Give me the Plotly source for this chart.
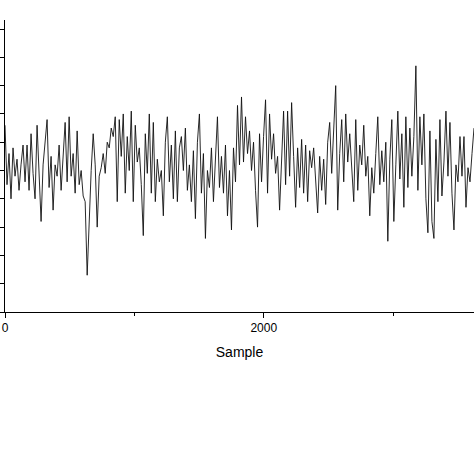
import numpy as np
import plotly.graph_objects as go

signal = [
 6.6,4.5,5.6,4.0,5.8,4.8,5.4,4.3,5.2,5.9,
 4.6,5.9,4.3,6.3,4.9,4.0,6.6,4.7,3.2,5.2,
 6.0,6.8,4.4,5.5,3.6,5.2,4.8,5.9,4.3,5.5,
 6.7,4.6,6.9,4.8,5.6,4.2,6.4,4.5,5.0,4.1,
 3.9,1.3,3.4,5.0,6.3,5.2,3.0,4.8,
 5.1,5.6,4.9,6.0,5.8,6.5,6.2,6.9,3.9,6.8,
 5.5,7.0,4.2,6.2,5.0,7.1,3.9,6.6,5.3,5.8,
 4.5,2.7,6.3,4.9,7.0,4.2,6.7,3.9,5.4,4.6,
 5.0,3.4,6.0,6.9,4.6,5.9,4.0,6.4,3.9,5.8,
 6.2,5.0,6.5,4.3,5.2,3.9,5.7,3.3,6.0,7.0,
 4.2,5.6,2.6,5.0,4.4,5.8,3.9,5.2,6.9,4.4,
 5.5,4.2,5.9,3.4,5.0,2.9,5.8,4.6,7.3,5.2,
 7.6,5.3,6.9,5.6,6.4,5.0,6.0,4.3,3.0,6.3,
 4.6,6.2,7.5,4.2,7.0,5.4,6.3,4.9,5.5,3.6,
 5.6,7.1,4.5,7.1,4.8,7.4,5.5,3.7,5.8,4.4,
 6.1,4.2,5.9,3.9,5.7,5.1,5.8,4.6,3.5,5.5,
 4.3,5.4,3.8,6.0,6.7,4.9,6.3,8.0,3.6,5.6,
 6.8,4.6,7.0,5.3,6.3,5.0,3.9,6.8,4.3,5.9,
 5.2,6.6,4.8,5.5,3.4,5.1,4.2,5.6,6.9,4.5,
 5.7,4.6,6.0,2.5,5.4,6.8,3.2,5.2,7.1,4.7,
 6.3,3.7,6.9,4.4,6.5,4.8,6.2,8.7,4.3,6.9,
 5.2,7.0,4.0,2.8,6.4,3.2,2.6,6.1,3.9,6.8,
 4.1,5.3,7.1,4.8,6.7,4.2,2.9,5.2,4.6,6.2,
 4.8,6.2,3.7,5.1,4.6,5.6,6.5,
]
x_start, x_end = 0, 3625
samples = np.linspace(x_start, x_end, len(signal))

x_ticks = [0, 2000]
x_label = "Sample"

fig = go.Figure(go.Scatter(x=samples, y=signal, mode="lines",
                           line=dict(color="#111111", width=0.9)))
fig.update_layout(
    width=474, height=474, paper_bgcolor="white", plot_bgcolor="white",
    margin=dict(l=5, r=0, t=20, b=162), showlegend=False,
    font=dict(family="Liberation Sans, Arial", color="black", size=12),
)
fig.update_xaxes(range=[x_start, x_end], showline=True, linecolor="black", linewidth=1,
                 automargin=False,
                 tickmode="array", tickvals=x_ticks, ticktext=[str(t) for t in x_ticks],
                 ticks="outside", ticklen=5, tickcolor="black",
                 minor=dict(tickmode="array", tickvals=[1000, 3000], ticks="outside", ticklen=3, tickcolor="black"),
                 showgrid=False, zeroline=False,
                 title=dict(text=x_label, font=dict(size=14), standoff=12))
fig.update_yaxes(range=[0, 10.32], showline=True, linecolor="black", linewidth=1,
                 automargin=False,
                 dtick=1, ticks="outside", ticklen=5, tickcolor="black",
                 showticklabels=False, showgrid=False, zeroline=False)
fig.write_html("out.html", config={"displayModeBar": False},
               post_script="document.body.style.margin='0';")
